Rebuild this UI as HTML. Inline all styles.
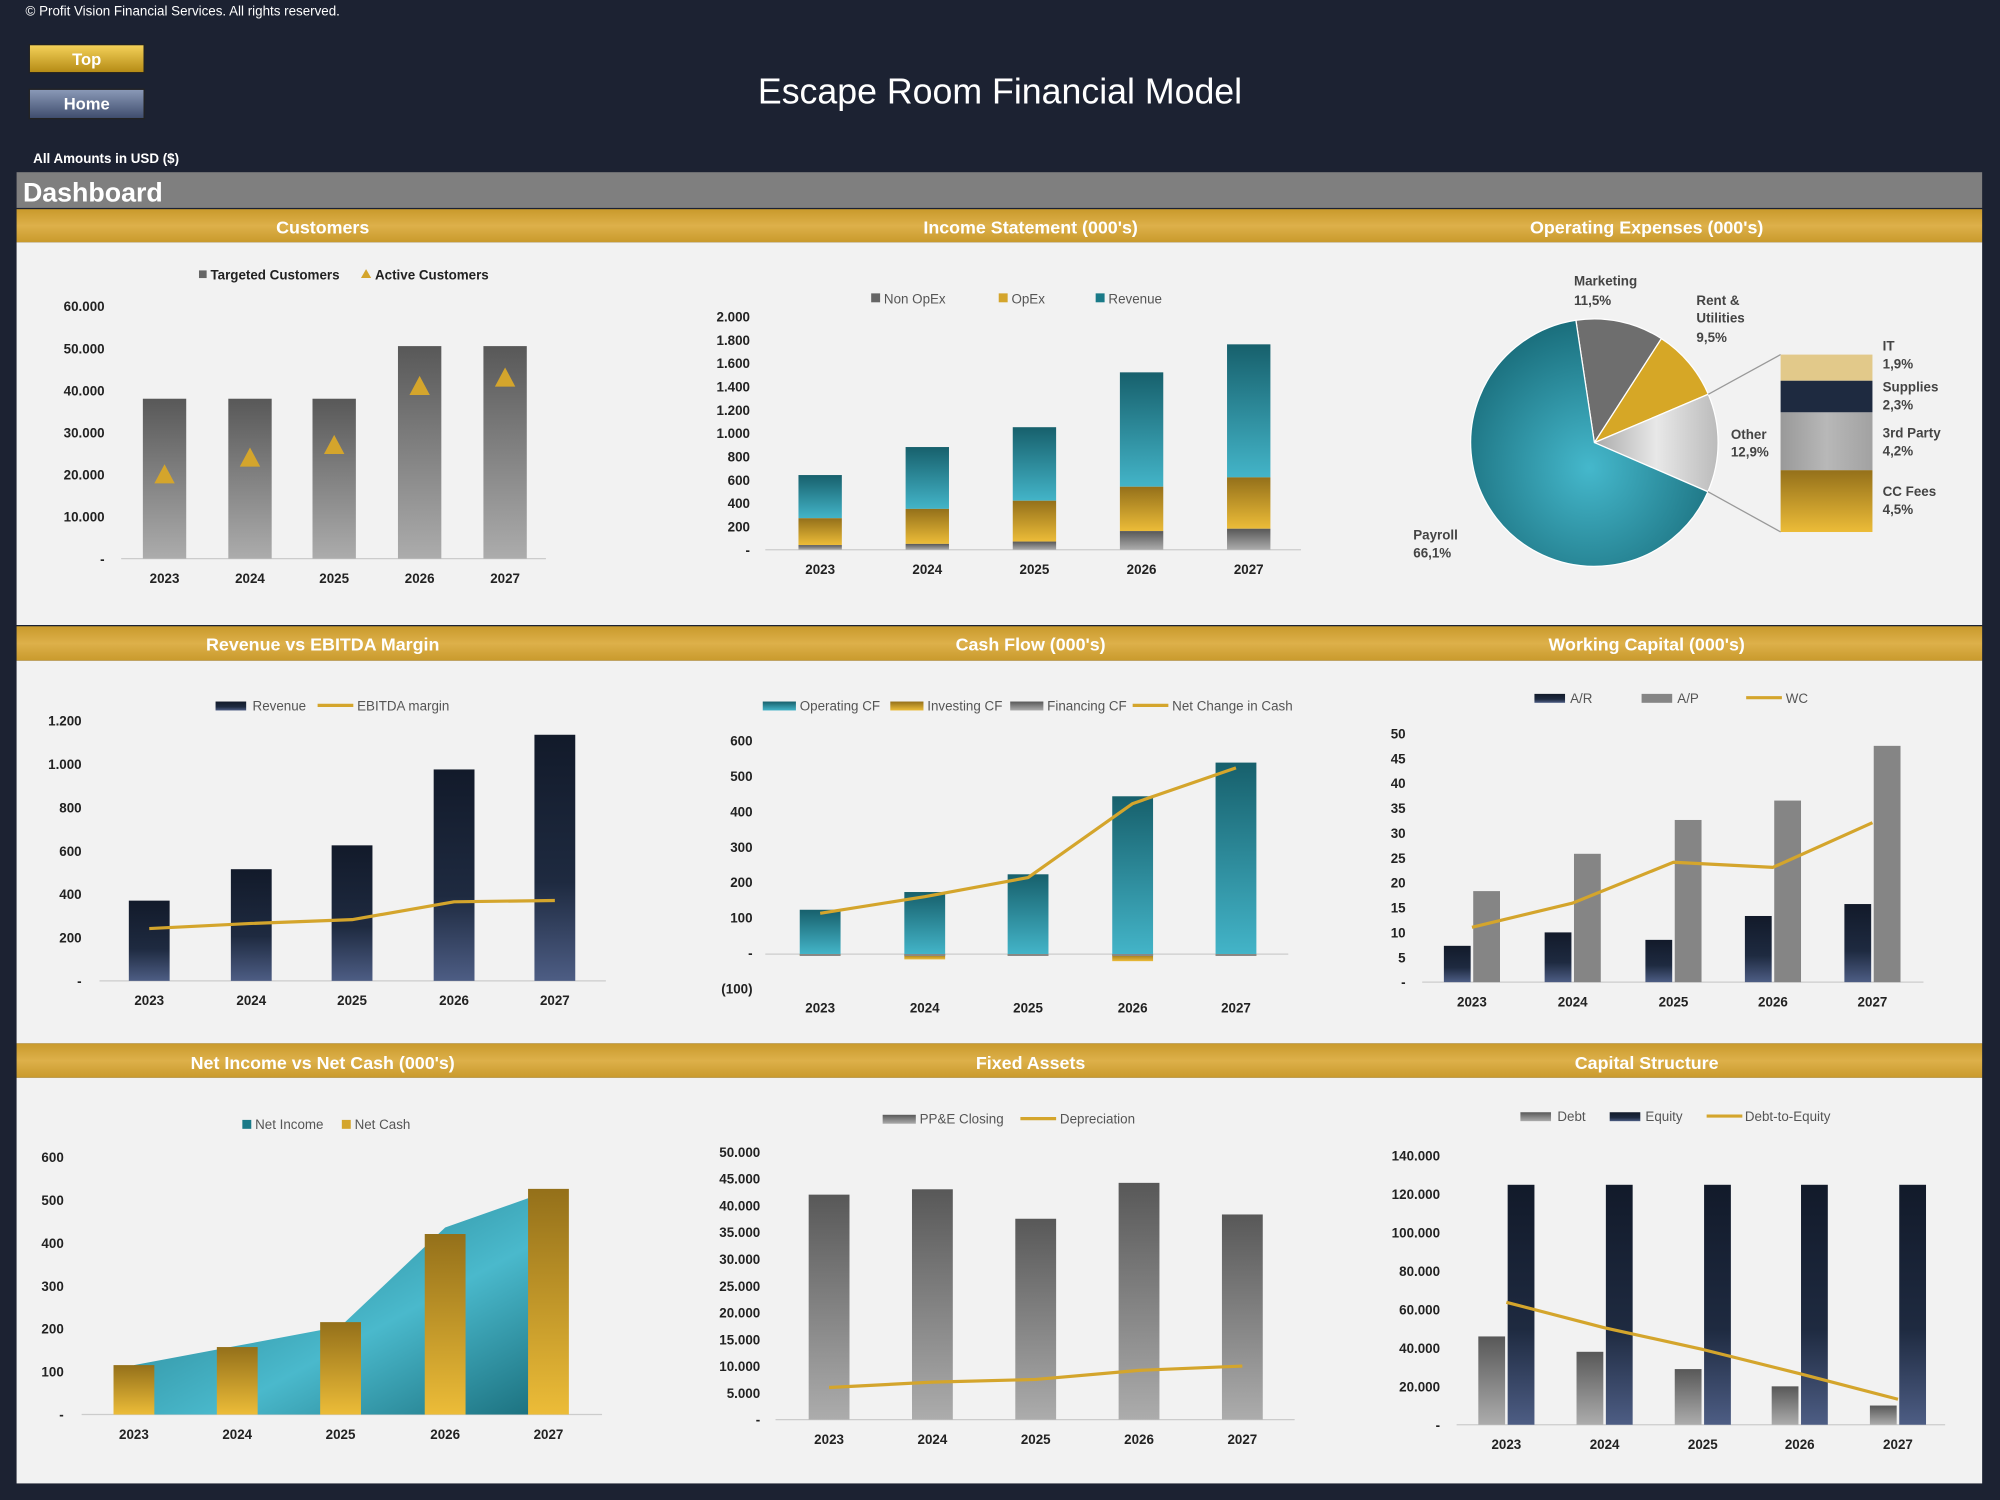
<!DOCTYPE html>
<html><head><meta charset="utf-8">
<style>
html,body{margin:0;padding:0;background:#1c2232;}
svg{display:block;}
text{font-family:"Liberation Sans",sans-serif;}
</style></head>
<body>
<svg id="s" width="2000" height="1500" viewBox="0 0 1568 1176" preserveAspectRatio="none" xmlns="http://www.w3.org/2000/svg">
<defs>
<linearGradient id="gGray" x1="0" y1="0" x2="0" y2="1"><stop offset="0" stop-color="#585858"/><stop offset="1" stop-color="#acacac"/></linearGradient>
<linearGradient id="gTeal" x1="0" y1="0" x2="0" y2="1"><stop offset="0" stop-color="#17606c"/><stop offset="1" stop-color="#43b4c8"/></linearGradient>
<linearGradient id="gNavy" x1="0" y1="0" x2="0" y2="1"><stop offset="0" stop-color="#121a2a"/><stop offset="0.6" stop-color="#1e2a40"/><stop offset="1" stop-color="#4d5d84"/></linearGradient>
<linearGradient id="gGold" x1="0" y1="0" x2="0" y2="1"><stop offset="0" stop-color="#94701a"/><stop offset="1" stop-color="#ecbc38"/></linearGradient>
<linearGradient id="gHdr" x1="0" y1="0" x2="0" y2="1"><stop offset="0" stop-color="#c99a2c"/><stop offset="0.5" stop-color="#ddb04a"/><stop offset="1" stop-color="#c99a2c"/></linearGradient>
<linearGradient id="gTop" x1="0" y1="0" x2="0" y2="1"><stop offset="0" stop-color="#f5d25a"/><stop offset="1" stop-color="#b48a14"/></linearGradient>
<linearGradient id="gHome" x1="0" y1="0" x2="0" y2="1"><stop offset="0" stop-color="#8b9ab8"/><stop offset="1" stop-color="#3e4c6c"/></linearGradient>
<radialGradient id="gPie" cx="0.5" cy="0.6" r="0.6"><stop offset="0" stop-color="#45b8cc"/><stop offset="1" stop-color="#1a6e7c"/></radialGradient>
<linearGradient id="gArea" x1="0" y1="0" x2="1" y2="1"><stop offset="0" stop-color="#1a6e7c"/><stop offset="0.6" stop-color="#4ab9cc"/><stop offset="1" stop-color="#1a6e7c"/></linearGradient>
<linearGradient id="gSil" x1="0" y1="0" x2="1" y2="0"><stop offset="0" stop-color="#aaa"/><stop offset="0.5" stop-color="#e8e8e8"/><stop offset="1" stop-color="#bbb"/></linearGradient>
</defs>
<text x="20" y="12" fill="#fff" font-size="10.5">© Profit Vision Financial Services. All rights reserved.</text>
<rect x="23" y="35" width="90" height="22" fill="url(#gTop)" stroke="#222" />
<text x="68" y="51" fill="#fff" font-size="13" font-weight="bold" text-anchor="middle">Top</text>
<rect x="23" y="70" width="90" height="23" fill="url(#gHome)" stroke="#222"/>
<text x="68" y="86" fill="#fff" font-size="13" font-weight="bold" text-anchor="middle">Home</text>
<text x="784" y="81" fill="#fff" font-size="28" text-anchor="middle">Escape Room Financial Model</text>
<text x="26" y="128" fill="#fff" font-size="10.5" font-weight="bold">All Amounts in  USD ($)</text>
<rect x="13" y="135" width="1541" height="28" fill="#7f7f7f"/>
<text x="18" y="158" fill="#fff" font-size="21" font-weight="bold">Dashboard</text>
<g id="root"></g>
</svg>
<script>
const root=document.getElementById('root');let h='';
function R(x,y,w,hh,f,extra){h+=`<rect x="${x}" y="${y}" width="${w}" height="${hh}" fill="${f}" ${extra||''}/>`;}
function T(x,y,t,o){o=o||{};h+=`<text x="${x}" y="${y}" font-size="${o.s||10.5}" fill="${o.c||'#222'}" text-anchor="${o.a||'start'}" font-weight="${o.w||'bold'}">${t}</text>`;}
function L(pts,c,w){h+=`<polyline points="${pts.map(p=>p.join(',')).join(' ')}" fill="none" stroke="${c||'#d4a52c'}" stroke-width="${w||2.5}" stroke-linejoin="round"/>`;}
// panels
[[164,190,490],[491,518,818],[818,845,1163]].forEach(([a,b,c])=>{R(13,a,1541,b-a,'url(#gHdr)');R(13,b,1541,c-b,'#f2f2f2');});
[['Customers',253,183],["Income Statement (000's)",808,183],["Operating Expenses (000's)",1291,183],
['Revenue vs EBITDA Margin',253,510],["Cash Flow (000's)",808,510],["Working Capital (000's)",1291,510],
["Net Income vs Net Cash (000's)",253,838],['Fixed Assets',808,838],['Capital Structure',1291,838]].forEach(([t,x,y])=>T(x,y,t,{s:14,c:'#fff',a:'middle'}));
const yrs=['2023','2024','2025','2026','2027'];
function axis(lx,labels,top,base,x0,x1,cx,yl){const st=(base-top)/(labels.length-1);
 labels.forEach((l,i)=>T(lx,base-i*st+4,l,{a:'end'}));
 h+=`<line x1="${x0}" y1="${base}" x2="${x1}" y2="${base}" stroke="#ccc"/>`;
 cx.forEach((c,i)=>T(c,yl,yrs[i],{a:'middle'}));}
// 1 Customers
axis(82,['-','10.000','20.000','30.000','40.000','50.000','60.000'],240,438,95,428,[129,196,262,329,396],457);
const c1=[129,196,262,329,396],tg=[38000,38000,38000,50500,50500],ac=[20000,24000,27000,41000,43000],k1=33/10000;
c1.forEach((c,i)=>{R(c-17,438-tg[i]*k1,34,tg[i]*k1,'url(#gGray)');const y=438-ac[i]*k1;h+=`<polygon points="${c},${y-8} ${c-8},${y+7} ${c+8},${y+7}" fill="#d4a52c"/>`;});
R(156,212,6,6,'#666');T(165,219,'Targeted Customers');h+=`<polygon points="287,211 283,218 291,218" fill="#d4a52c"/>`;T(294,219,'Active Customers');
// 2 Income
axis(588,['-','200','400','600','800','1.000','1.200','1.400','1.600','1.800','2.000'],248,431,600,1020,[643,727,811,895,979],450);
const k2=18.3/200,rev=[640,880,1050,1520,1760],op=[270,350,420,540,620],no=[40,50,70,160,180];
[643,727,811,895,979].forEach((c,i)=>{R(c-17,431-rev[i]*k2,34,(rev[i]-op[i])*k2,'url(#gTeal)');R(c-17,431-op[i]*k2,34,(op[i]-no[i])*k2,'url(#gGold)');R(c-17,431-no[i]*k2,34,no[i]*k2,'url(#gGray)');});
R(683,230,7,7,'#666');T(693,238,'Non OpEx',{w:'normal',c:'#555'});R(783,230,7,7,'#d4a52c');T(793,238,'OpEx',{w:'normal',c:'#555'});R(859,230,7,7,'#1a7a88');T(869,238,'Revenue',{w:'normal',c:'#555'});
// 3 Pie
const cx=1250,cy=347,r=97;function P(a){a=a*Math.PI/180;return [cx+r*Math.cos(a),cy+r*Math.sin(a)];}
function wedge(a0,a1,f){const p0=P(a0),p1=P(a1),lg=(a1-a0)>180?1:0;h+=`<path d="M${cx},${cy} L${p0[0]},${p0[1]} A${r},${r} 0 ${lg} 1 ${p1[0]},${p1[1]} Z" fill="${f}" stroke="#fff" stroke-width="1"/>`;}
wedge(-98.6,-57.2,'#6e6e6e');wedge(-57.2,-23,'#d6a726');wedge(-23,23.4,'url(#gSil)');wedge(23.4,261.4,'url(#gPie)');
const po=P(-23),pe=P(23.4);h+=`<line x1="${po[0]}" y1="${po[1]}" x2="1396" y2="278" stroke="#999"/><line x1="${pe[0]}" y1="${pe[1]}" x2="1396" y2="417" stroke="#999"/>`;
R(1396,278,72,20.5,'#e2c98a');R(1396,298.5,72,24.8,'#1e2a40');R(1396,323.3,72,45.3,'#888');R(1396,368.6,72,48.5,'url(#gGold)');
h+=`<rect x="1396" y="323.3" width="72" height="45.3" fill="url(#gSil)" opacity="0.5"/>`;
[['IT','1,9%',275],['Supplies','2,3%',307],['3rd Party','4,2%',343],['CC Fees','4,5%',389]].forEach(([a,b,y])=>{T(1476,y,a,{c:'#444'});T(1476,y+14,b,{c:'#444'});});
T(1234,224,'Marketing',{c:'#444'});T(1234,239,'11,5%',{c:'#444'});
T(1330,239,'Rent &amp;',{c:'#444'});T(1330,253,'Utilities',{c:'#444'});T(1330,268,'9,5%',{c:'#444'});
T(1357,344,'Other',{c:'#444'});T(1357,358,'12,9%',{c:'#444'});T(1108,423,'Payroll',{c:'#444'});T(1108,437,'66,1%',{c:'#444'});
// 4 Rev vs EBITDA
axis(64,['-','200','400','600','800','1.000','1.200'],565,769,78,475,[117,197,276,356,435],788);
const k4=34/200,r4=[370,515,625,975,1135];[117,197,276,356,435].forEach((c,i)=>R(c-16,769-r4[i]*k4,32,r4[i]*k4,'url(#gNavy)'));
L([[117,728],[197,724],[276,721],[356,707],[435,706]]);
R(169,550,24,7,'url(#gNavy)');T(198,557,'Revenue',{w:'normal',c:'#555'});h+='<line x1="249" y1="553" x2="277" y2="553" stroke="#d4a52c" stroke-width="2.5"/>';T(280,557,'EBITDA margin',{w:'normal',c:'#555'});
// 5 Cash flow
['(100)','-','100','200','300','400','500','600'].forEach((l,i)=>T(590,779-i*27.8,l,{a:'end'}));
h+='<line x1="600" y1="748" x2="1010" y2="748" stroke="#ccc"/>';[643,725,806,888,969].forEach((c,i)=>T(c,794,yrs[i],{a:'middle'}));
const k5=27.8/100,o5=[125,175,225,445,540],i5=[5,15,5,20,5];
[643,725,806,888,969].forEach((c,i)=>{R(c-16,748-o5[i]*k5,32,o5[i]*k5,'url(#gTeal)');R(c-16,748,32,i5[i]*k5,'url(#gGold)');R(c-16,748,32,1.5,'#888');});
L([[643,716],[725,703],[806,688],[888,630],[969,602]]);
R(598,550,26,7,'url(#gTeal)');T(627,557,'Operating CF',{w:'normal',c:'#555'});R(698,550,26,7,'url(#gGold)');T(727,557,'Investing CF',{w:'normal',c:'#555'});
R(792,550,26,7,'url(#gGray)');T(821,557,'Financing CF',{w:'normal',c:'#555'});h+='<line x1="888" y1="553" x2="916" y2="553" stroke="#d4a52c" stroke-width="2.5"/>';T(919,557,'Net Change in Cash',{w:'normal',c:'#555'});
// 6 WC
axis(1102,['-','5','10','15','20','25','30','35','40','45','50'],575,770,1115,1508,[1154,1233,1312,1390,1468],789);
const k6=19.5/5,ar=[7.3,10,8.5,13.3,15.7],ap=[18.3,25.8,32.6,36.5,47.5];
[1154,1233,1312,1390,1468].forEach((c,i)=>{R(c-22,770-ar[i]*k6,21,ar[i]*k6,'url(#gNavy)');R(c+1,770-ap[i]*k6,21,ap[i]*k6,'#858585');});
L([[1154,727],[1233,708],[1312,676],[1390,680],[1468,645]]);
R(1203,544,24,7,'url(#gNavy)');T(1231,551,'A/R',{w:'normal',c:'#555'});R(1287,544,24,7,'#858585');T(1315,551,'A/P',{w:'normal',c:'#555'});h+='<line x1="1369" y1="547" x2="1397" y2="547" stroke="#d4a52c" stroke-width="2.5"/>';T(1400,551,'WC',{w:'normal',c:'#555'});
// 7 Net income
axis(50,['-','100','200','300','400','500','600'],907,1109,64,472,[105,186,267,349,430],1128);
const k7=33.7/100,ni=[115,160,205,435,520],nc=[115,157,215,420,525],x7=[105,186,267,349,430];
h+=`<polygon points="${x7.map((x,i)=>x+','+(1109-ni[i]*k7)).join(' ')} 430,1109 105,1109" fill="url(#gArea)"/>`;
x7.forEach((c,i)=>R(c-16,1109-nc[i]*k7,32,nc[i]*k7,'url(#gGold)'));
R(190,878,7,7,'#1a7a88');T(200,885,'Net Income',{w:'normal',c:'#555'});R(268,878,7,7,'#d4a52c');T(278,885,'Net Cash',{w:'normal',c:'#555'});
// 8 Fixed assets
axis(596,['-','5.000','10.000','15.000','20.000','25.000','30.000','35.000','40.000','45.000','50.000'],903,1113,608,1015,[650,731,812,893,974],1132);
const k8=21/5000,pp=[42000,43000,37500,44200,38300],dp=[6000,7000,7500,9200,10000];
[650,731,812,893,974].forEach((c,i)=>R(c-16,1113-pp[i]*k8,32,pp[i]*k8,'url(#gGray)'));
L([650,731,812,893,974].map((c,i)=>[c,1113-dp[i]*k8]));
R(692,874,26,7,'url(#gGray)');T(721,881,'PP&amp;E Closing',{w:'normal',c:'#555'});h+='<line x1="800" y1="877" x2="828" y2="877" stroke="#d4a52c" stroke-width="2.5"/>';T(831,881,'Depreciation',{w:'normal',c:'#555'});
// 9 Capital
axis(1129,['-','20.000','40.000','60.000','80.000','100.000','120.000','140.000'],906,1117,1142,1525,[1181,1258,1335,1411,1488],1136);
const k9=30.1/20000,db=[46000,38000,29000,20000,10000];
[1181,1258,1335,1411,1488].forEach((c,i)=>{R(c-22,1117-db[i]*k9,21,db[i]*k9,'url(#gGray)');R(c+1,1117-125000*k9,21,125000*k9,'url(#gNavy)');});
L([[1181,1021],[1258,1041],[1335,1058],[1411,1077],[1488,1097]]);
R(1192,872,24,7,'url(#gGray)');T(1221,879,'Debt',{w:'normal',c:'#555'});R(1262,872,24,7,'url(#gNavy)');T(1290,879,'Equity',{w:'normal',c:'#555'});h+='<line x1="1338" y1="875" x2="1366" y2="875" stroke="#d4a52c" stroke-width="2.5"/>';T(1368,879,'Debt-to-Equity',{w:'normal',c:'#555'});
root.innerHTML=h;
</script>
</body></html>
